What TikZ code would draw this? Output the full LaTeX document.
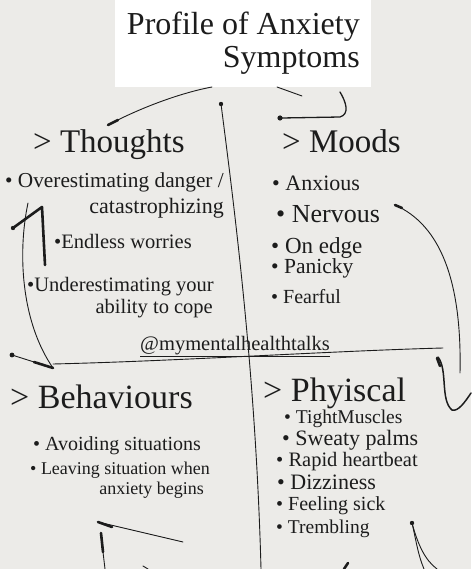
\documentclass[tikz,border=0pt]{standalone}
\usepackage{fontspec}
\setmainfont{Liberation Serif}
\definecolor{wall}{HTML}{ECEBE8}
\definecolor{ink}{HTML}{1C1C1C}
\tikzset{
  fs/.style={font=\fontsize{#1}{#1}\selectfont},
  lbl/.style={inner sep=0pt, text=ink},
  thin/.style={draw=ink, line width=0.9pt, line cap=round, line join=round},
  thick/.style={draw=ink, line width=2.6pt, line cap=round, line join=round},
  blob/.style={fill=ink},
}
\begin{document}
\begin{tikzpicture}[x=1pt,y=-1pt]
\useasboundingbox (0,0) rectangle (471,569);
\fill[wall] (0,0) rectangle (471,569);
% title box
\fill[white] (115,0) rectangle (371,87);
\node[lbl,fs=32,anchor=base east] (t1) at (360,35) {Profile of Anxiety};
\node[lbl,fs=32,anchor=base east] (t2) at (360,68) {Symptoms};

% Thoughts
\node[lbl,fs=33,anchor=base west] (hth) at (33,153) {> Thoughts};
\node[lbl,fs=21.3,anchor=base east] (th1) at (224,188) {• Overestimating danger /};
\node[lbl,fs=22,anchor=base east] (th1b) at (224,213) {catastrophizing};
\node[lbl,fs=20.5,anchor=base west] (th2) at (54,248) {•Endless worries};
\node[lbl,fs=20.5,anchor=base west] (th3) at (27,291) {•Underestimating your};
\node[lbl,fs=20.5,anchor=base east] (th3b) at (213,313) {ability to cope};
\node[lbl,fs=20.5,anchor=base west] (tag) at (140,350) {\underline{@mymentalhealthtalks}};

% Moods
\node[lbl,fs=33,anchor=base west] (hmo) at (282,153) {> Moods};
\node[lbl,fs=22,anchor=base west] (mo1) at (272,190) {• Anxious};
\node[lbl,fs=26,anchor=base west] (mo2) at (276,222) {• Nervous};
\node[lbl,fs=23,anchor=base west] (mo3) at (271,253) {• On edge};
\node[lbl,fs=21.5,anchor=base west] (mo4) at (271,273) {• Panicky};
\node[lbl,fs=20,anchor=base west] (mo5) at (271,303) {• Fearful};

% Behaviours
\node[lbl,fs=34,anchor=base west] (hbe) at (10,408) {> Behaviours};
\node[lbl,fs=20,anchor=base west] (be1) at (33,450) {• Avoiding situations};
\node[lbl,fs=18,anchor=base west] (be2) at (30,474) {• Leaving situation when};
\node[lbl,fs=18,anchor=base east] (be2b) at (204,494) {anxiety begins};

% Physical
\node[lbl,fs=34,anchor=base west] (hph) at (263,401) {> Phyiscal};
\node[lbl,fs=19.5,anchor=base west] (ph1) at (284,423) {• TightMuscles};
\node[lbl,fs=22,anchor=base west] (ph2) at (282,445) {• Sweaty palms};
\node[lbl,fs=20.5,anchor=base west] (ph3) at (276,466) {• Rapid heartbeat};
\node[lbl,fs=22,anchor=base west] (ph4) at (277,489) {• Dizziness};
\node[lbl,fs=20,anchor=base west] (ph5) at (276,510) {• Feeling sick};
\node[lbl,fs=19.5,anchor=base west] (ph6) at (276,533) {• Trembling};

% hand-drawn strokes: top
\draw[thin] (108,125) .. controls (140,108) and (180,93) .. (212,87);
\draw[thick] (108,125) -- (118,120);
\draw[thin] (277,87) -- (302,96);
\draw[thin, line width=1.3pt] (340,92) .. controls (346,102) and (350,114) .. (340,117) -- (282,118);
\fill[blob] (280,118) circle (2.6);

% central vertical line
\fill[blob] (221,104) circle (2.2);
\draw[thin] (221,104) .. controls (236,220) and (256,380) .. (261,569);

% horizontal line
\draw[thin] (53,364) .. controls (180,361) and (330,351) .. (443,348);
\fill[blob] (12,355) circle (2.4);
\draw[thin] (12,355) -- (53,368);
\draw[thick] (34,362) -- (53,368);

% left arrow
\draw[thin] (28,203) .. controls (18,250) and (20,320) .. (53,368);
\draw[thick] (13,228) -- (42,207) -- (45,265);
\fill[blob] (13,228) circle (2.2);

% right arrow
\draw[thin] (395,205) .. controls (440,225) and (462,280) .. (460,373);
\draw[thick] (395,205) -- (402,208);
\draw[thin, line width=1.5pt] (438,357) .. controls (448,370) and (440,400) .. (452,410) .. controls (458,412) and (465,402) .. (471,393);
\draw[thick] (437,358) -- (440,366);

% bottom strokes
\draw[thin] (98,522) -- (183,542);
\draw[thick] (98,522) -- (112,527);
\draw[thick] (101,533) -- (103,552);
\draw[thin] (103,552) -- (105,569);
\draw[thin] (143,566) -- (148,569);
\draw[thick] (348,563) -- (344,569);
\fill[blob] (412,523) circle (2.2);
\draw[thin] (412,523) .. controls (416,540) and (418,555) .. (424,569);
\draw[thin] (412,523) .. controls (418,545) and (425,560) .. (437,569);
\end{tikzpicture}
\end{document}
